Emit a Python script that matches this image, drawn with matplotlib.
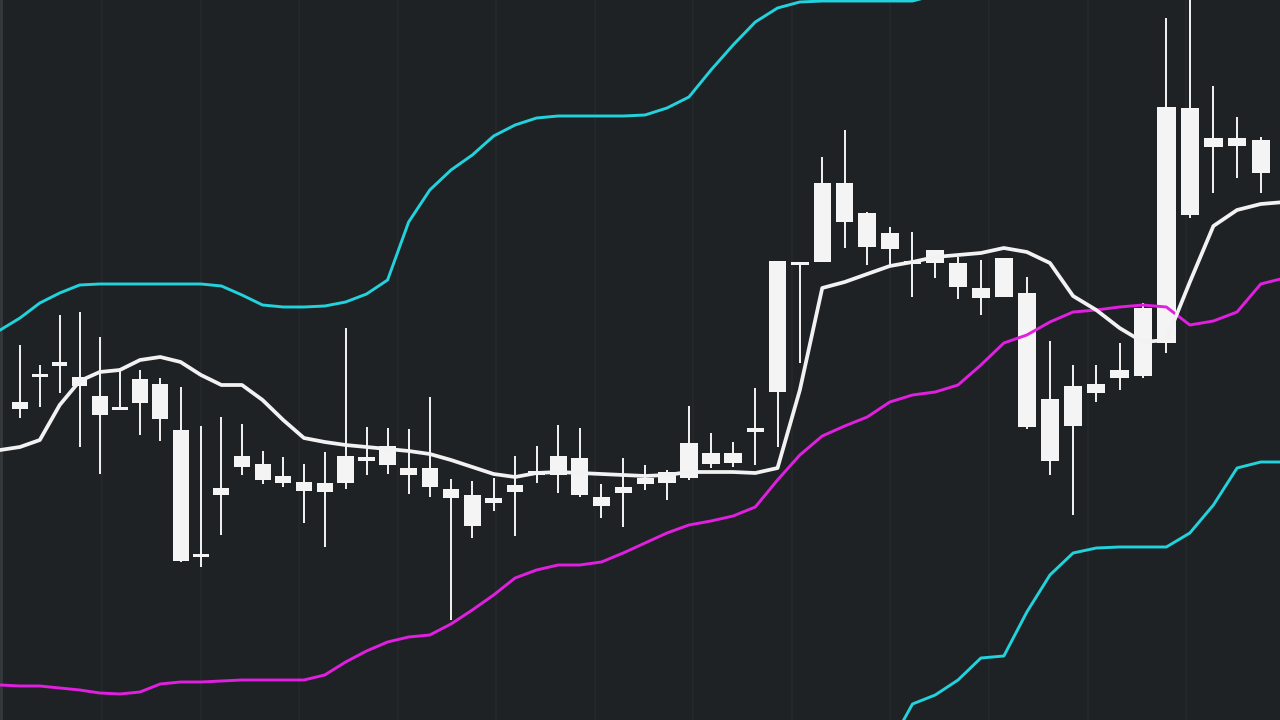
import numpy as np
import matplotlib
matplotlib.use("Agg")
import matplotlib.pyplot as plt

# candle data (price units), one entry per bar
opens = [311, 343, 354, 343, 324, 311, 317, 336, 290, 163,
         232, 253, 256, 244, 238, 228, 237, 263, 255, 252,
         252, 231, 225, 217, 228, 245, 245, 262, 223, 227,
         236, 237, 242, 267, 257, 288, 328, 458, 458, 537,
         507, 487, 459, 470, 457, 432, 423, 427, 321, 294,
         327, 342, 344, 377, 612, 582, 574, 580]
highs = [375, 355, 405, 408, 383, 352, 350, 342, 333, 294,
         303, 296, 269, 263, 256, 268, 392, 293, 292, 291,
         323, 241, 239, 242, 264, 274, 295, 292, 236, 262,
         255, 250, 314, 287, 278, 332, 459, 458, 563, 590,
         508, 493, 488, 470, 463, 460, 462, 443, 379, 355,
         355, 377, 417, 702, 740, 634, 603, 583]
lows = [302, 313, 327, 273, 246, 310, 285, 279, 158, 153,
        185, 245, 236, 233, 197, 173, 231, 245, 246, 226,
        223, 100, 182, 209, 184, 237, 227, 223, 202, 193,
        230, 220, 240, 252, 253, 255, 273, 357, 458, 472,
        455, 453, 423, 442, 421, 405, 423, 291, 245, 205,
        318, 330, 342, 367, 502, 527, 542, 527]
closes = [318, 346, 358, 334, 305, 313, 341, 301, 159, 166,
          225, 264, 240, 237, 229, 237, 264, 259, 274, 245,
          233, 222, 194, 222, 235, 249, 264, 225, 214, 233,
          242, 248, 277, 256, 267, 292, 459, 455, 537, 498,
          473, 471, 456, 457, 433, 422, 462, 293, 259, 334,
          336, 350, 412, 613, 505, 573, 582, 547]

# indicator lines, bars -1 .. 58 (one bar before and after the candles shown)
upper_band = [390, 402, 417, 427, 435, 436, 436, 436, 436, 436, 436,
              434, 425, 415, 413, 413, 414, 418, 426, 440, 498,
              530, 550, 565, 584, 595, 602, 604, 604, 604, 604,
              605, 612, 623, 650, 675, 698, 712, 718, 719, 719,
              719, 719, 719, 725, 750, 770, 780, 790, 800, 805,
              810, 815, 825, 845, 870, 885, 895, 900, 905]
lower_band = [np.nan] * 41 + [
              -60, -25, 16, 25, 40, 62, 64, 108, 145, 167,
              172, 173, 173, 173, 187, 215, 252, 258, 258]
slow_line = [35, 34, 34, 32, 30, 27, 26, 28, 36, 38, 38,
             39, 40, 40, 40, 40, 45, 58, 69, 78, 83,
             85, 96, 110, 125, 142, 150, 155, 155, 158, 167,
             177, 187, 195, 199, 204, 213, 240, 265, 284, 294,
             303, 318, 325, 328, 335, 355, 377, 385, 398, 408,
             410, 413, 415, 413, 395, 399, 408, 436, 442]
mid_line = [270, 273, 280, 315, 339, 348, 350, 360, 363, 358, 345,
            335, 335, 320, 300, 282, 278, 275, 273, 271, 269,
            266, 260, 253, 246, 243, 247, 248, 247, 246, 245,
            244, 245, 248, 248, 248, 247, 252, 330, 432, 438,
            446, 454, 458, 463, 465, 467, 472, 468, 457, 424,
            410, 392, 378, 380, 438, 494, 510, 516, 518]

BG = "#1f2225"
GRID = "#26292c"
CANDLE = "#f4f4f4"
CYAN = "#22d2dc"
MAGENTA = "#e01fe0"
WHITE = "#f2f2f2"

# bar spacing widens slightly to the right in the source view
B, C = 19.8, 0.0345


def fwd(i):
    i = np.asarray(i, dtype=float)
    return B * i + C * i ** 2


def inv(v):
    v = np.asarray(v, dtype=float)
    return (-B + np.sqrt(np.clip(B ** 2 + 4 * C * v, 0, None))) / (2 * C)


def plot_chart():
    fig = plt.figure(figsize=(12.8, 7.2), dpi=100)
    fig.patch.set_facecolor(BG)
    ax = fig.add_axes([0, 0, 1, 1])
    ax.set_facecolor(BG)
    ax.set_xscale("function", functions=(fwd, inv))

    # faint vertical grid
    for f in 0.0797 + 0.077 * np.arange(12):
        ax.plot([f, f], [0, 1], transform=ax.transAxes, color=GRID, lw=1.2, zorder=0)
    ax.plot([0.001, 0.001], [0, 1], transform=ax.transAxes, color="#36393c", lw=2, zorder=0)

    o = np.array(opens, dtype=float)
    c = np.array(closes, dtype=float)
    x = np.arange(len(o))
    mid = (o + c) / 2
    h = np.maximum(np.abs(c - o), 3)
    ax.vlines(x, lows, highs, color=CANDLE, lw=1.4, zorder=2)
    ax.bar(x, h, width=0.78, bottom=mid - h / 2, color=CANDLE, linewidth=0, zorder=3)

    ix = np.arange(-1, len(mid_line) - 1)
    ax.plot(ix, upper_band, color=CYAN, lw=2.1, zorder=4, solid_joinstyle="round")
    ax.plot(ix, lower_band, color=CYAN, lw=2.1, zorder=4, solid_joinstyle="round")
    ax.plot(ix, slow_line, color=MAGENTA, lw=2.1, zorder=5, solid_joinstyle="round")
    ax.plot(ix, mid_line, color=WHITE, lw=2.7, zorder=6, solid_joinstyle="round")

    ax.set_xlim(-1.01, 57.81)
    ax.set_ylim(0, 720)
    ax.set_xticks([])
    ax.set_yticks([])
    ax.minorticks_off()
    for s in ax.spines.values():
        s.set_visible(False)

    fig.savefig("out.png", dpi=100, facecolor=BG)


def main():
    plot_chart()


if __name__ == "__main__":
    main()
